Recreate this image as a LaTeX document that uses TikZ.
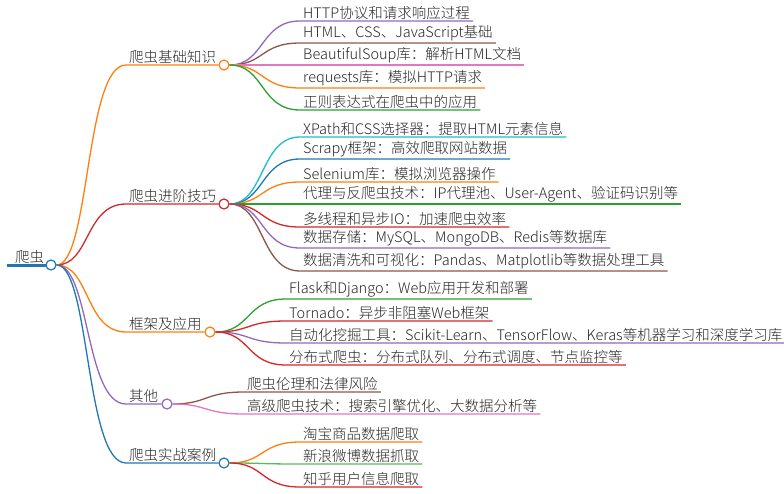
\documentclass[tikz,border=0pt]{standalone}
\usepackage{fontspec}
\setmainfont{Noto Sans CJK SC}[UprightFont=* Light]
\usetikzlibrary{calc}
\begin{document}
\begin{tikzpicture}[x=1pt,y=-1pt,
  lbl/.style={anchor=south west,inner xsep=3pt,inner ysep=1.5pt,font=\fontsize{14.5}{14.5}\selectfont,text=black!85},
  dot/.style={circle,draw=#1,fill=white,line width=1.2pt,minimum size=10pt,inner sep=0pt},
  ln/.style={line width=1.3pt,draw=#1}]
\definecolor{cb}{HTML}{1F77B4}\definecolor{co}{HTML}{FF7F0E}\definecolor{cg}{HTML}{2CA02C}
\definecolor{cr}{HTML}{D62728}\definecolor{cp}{HTML}{9467BD}\definecolor{cn}{HTML}{8C564B}
\definecolor{ck}{HTML}{E377C2}\definecolor{cc}{HTML}{17BECF}\definecolor{cl}{HTML}{5CB85C}
\useasboundingbox (0,0) rectangle (784,493);
% root
\node[lbl,inner xsep=8pt] (root) at (7,265) {爬虫};
\draw[line width=3pt,cb] (root.south west) -- (46,265);
\node[dot=cb] (r) at (51,265) {};
% branches
\newcommand{\branch}[5]{% name,color,x,y,text
  \node[lbl] (#1t) at (126,#4) {#5};
  \node[dot=#2] (#1) at (#3,#4) {};
  \draw[ln=#2] (r.east) .. controls (90,265) and (85,#4) .. (126,#4) -- (#1.west);}
\branch{b1}{co}{224}{65}{爬虫基础知识}
\branch{b2}{cr}{224}{204}{爬虫进阶技巧}
\branch{b3}{co}{210}{332}{框架及应用}
\branch{b4}{cp}{167}{404}{其他}
\branch{b5}{cb}{224}{463}{爬虫实战案例}
\newcommand{\leaf}[5]{% parent,color,startx,y,text
  \node[lbl] (n#4) at (#3,#4) {#5};
  \draw[ln=#2] (#1.east) .. controls ($(#1.east)+(35,0)$) and (#3-40,#4) .. (n#4.south west) -- (n#4.south east);}
\leaf{b1}{cp}{300}{21}{HTTP协议和请求响应过程}
\leaf{b1}{cn}{300}{43}{HTML、CSS、JavaScript基础}
\leaf{b1}{ck}{300}{65}{BeautifulSoup库：解析HTML文档}
\leaf{b1}{co}{300}{88}{requests库：模拟HTTP请求}
\leaf{b1}{cg}{300}{110}{正则表达式在爬虫中的应用}
\leaf{b2}{cc}{300}{137}{XPath和CSS选择器：提取HTML元素信息}
\leaf{b2}{cb}{300}{159}{Scrapy框架：高效爬取网站数据}
\leaf{b2}{co}{300}{182}{Selenium库：模拟浏览器操作}
\leaf{b2}{cg}{300}{204}{代理与反爬虫技术：IP代理池、User-Agent、验证码识别等}
\leaf{b2}{cr}{300}{227}{多线程和异步IO：加速爬虫效率}
\leaf{b2}{cp}{300}{248}{数据存储：MySQL、MongoDB、Redis等数据库}
\leaf{b2}{cn}{300}{271}{数据清洗和可视化：Pandas、Matplotlib等数据处理工具}
\leaf{b3}{cg}{286}{299}{Flask和Django：Web应用开发和部署}
\leaf{b3}{cr}{286}{321}{Tornado：异步非阻塞Web框架}
\leaf{b3}{cp}{286}{343}{自动化挖掘工具：Scikit-Learn、TensorFlow、Keras等机器学习和深度学习库}
\leaf{b3}{cr}{286}{365}{分布式爬虫：分布式队列、分布式调度、节点监控等}
\leaf{b4}{cn}{244}{392}{爬虫伦理和法律风险}
\leaf{b4}{ck}{244}{414}{高级爬虫技术：搜索引擎优化、大数据分析等}
\leaf{b5}{co}{300}{442}{淘宝商品数据爬取}
\leaf{b5}{cl}{300}{464}{新浪微博数据抓取}
\leaf{b5}{cr}{300}{487}{知乎用户信息爬取}
\end{tikzpicture}
\end{document}
